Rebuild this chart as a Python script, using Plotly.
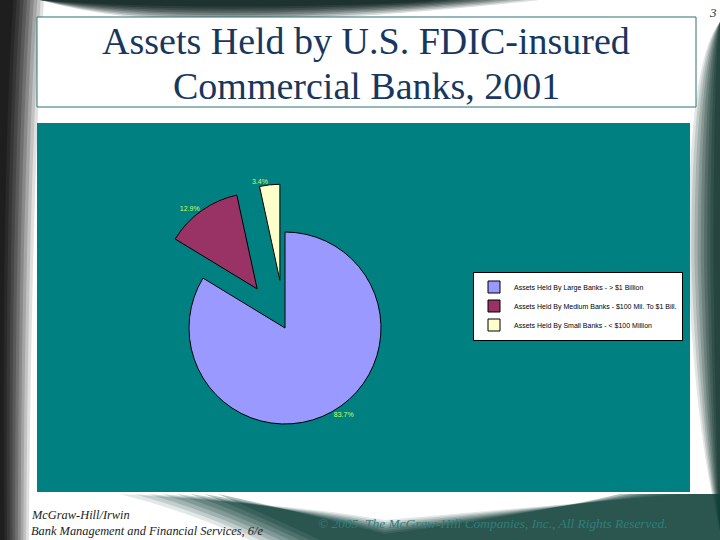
import plotly.graph_objects as go

W, H = 720, 540

# ---- data ----
categories = [
    "Assets Held By Large Banks - > $1 Billion",
    "Assets Held By Medium Banks - $100 Mil. To $1 Bill.",
    "Assets Held By Small Banks - < $100 Million",
]
shares = [83.7, 12.9, 3.4]
slice_colors = ["#9999FF", "#993366", "#FFFFCC"]
pulls = [0, 0.5, 0.5]

title_lines = ["Assets Held by U.S. FDIC-insured", "Commercial Banks, 2001"]
footer_left = ["McGraw-Hill/Irwin", "Bank Management and Financial Services, 6/e"]
footer_right = "© 2005  The McGraw-Hill Companies, Inc., All Rights Reserved."
page_number = "3"


def px(x):
    return x / W


def py(y):
    return 1 - y / H


# pie geometry (pixels)
cx, cy, r = 285, 328, 96
half = r * (1 + max(pulls))

fig = go.Figure()
fig.add_trace(go.Pie(
    labels=categories,
    values=shares,
    sort=False,
    direction="clockwise",
    rotation=0,
    pull=pulls,
    marker=dict(colors=slice_colors, line=dict(color="#000000", width=1)),
    texttemplate="%{value}%",
    textposition="outside",
    textfont=dict(family="Liberation Sans, Arial", size=7, color="#CCFF66"),
    hoverinfo="label+value",
    domain=dict(x=[px(cx - half), px(cx + half)], y=[py(cy + half), py(cy - half)]),
))

shapes = []


def add_path(path, color, opacity):
    shapes.append(dict(type="path", path=path, fillcolor=color, opacity=opacity,
                       line=dict(width=0), layer="below", xref="paper", yref="paper"))


def pth(cmds):
    out = []
    for c in cmds:
        if isinstance(c, str):
            out.append(c)
        else:
            out.append(f"{px(c[0]):.4f},{py(c[1]):.4f}")
    return " ".join(out)


# left edge (layered translucency to fake a gradient)
for i in range(10):
    w = 36 - i * 3.4
    add_path(pth(["M", (0, 0), "L", (w + 8, 0), "Q", (w - 4, 180), (w * 0.8, 540),
                  "L", (0, 540), "Z"]), "#000000", 0.12 + i * 0.015)

# top swoosh
for i in range(8):
    t = 26 - i * 2.6
    add_path(pth(["M", (40, 0), "Q", (130, t), (280, t * 0.8), "Q", (420, t * 0.5),
                  (540 - i * 15, 0), "Z"]), "#031a16", 0.15 + i * 0.025)

# right swoosh
for i in range(9):
    w = 32 - i * 3.2
    add_path(pth(["M", (720, 22), "Q", (720 - w, 60), (720 - w, 260),
                  "Q", (720 - w * 0.8, 430), (720, 530), "Z"]), "#062a24", 0.12 + i * 0.02)

# bottom swoosh
for k in range(8):
    add_path(pth(["M", (120 + k * 14, 494), "Q", (300, 505 + k), (385, 520 + k * 2),
                  "Q", (540, 506 + k), (690 - k * 10, 494), "L", (720, 494), "L", (720, 540),
                  "L", (250 + k * 10, 540), "Q", (190 + k * 10, 512), (120 + k * 14, 494), "Z"]),
             "#0d3f38", 0.12 + k * 0.03)

# chart area (teal)
shapes.append(dict(type="rect", xref="paper", yref="paper",
                   x0=px(37), x1=px(690), y0=py(492), y1=py(123),
                   fillcolor="#008080", line=dict(width=0), layer="below"))
# title box
shapes.append(dict(type="rect", xref="paper", yref="paper",
                   x0=px(37), x1=px(696), y0=py(107), y1=py(17),
                   fillcolor="#FFFFFF", line=dict(color="#2A7373", width=1), layer="below"))

annotations = []
serif = "Liberation Serif, Times New Roman, serif"
for line, yy in zip(title_lines, [41, 86]):
    annotations.append(dict(text=line, x=px(366), y=py(yy), xref="paper", yref="paper",
                            xanchor="center", yanchor="middle", showarrow=False,
                            font=dict(family=serif, size=38, color="#17375E")))
for line, yy in zip(footer_left, [515, 531]):
    annotations.append(dict(text=f"<i>{line}</i>", x=px(29), y=py(yy), xref="paper", yref="paper",
                            xanchor="left", yanchor="middle", showarrow=False,
                            font=dict(family=serif, size=12.4, color="#222222")))
annotations.append(dict(text=f"<i>{footer_right}</i>", x=px(316), y=py(523), xref="paper",
                        yref="paper", xanchor="left", yanchor="middle", showarrow=False,
                        font=dict(family=serif, size=13.4, color="#2E7F7C")))
annotations.append(dict(text=f"<i>{page_number}</i>", x=px(713), y=py(12), xref="paper",
                        yref="paper", xanchor="center", yanchor="middle", showarrow=False,
                        font=dict(family=serif, size=13, color="#333333")))

fig.update_layout(
    width=W, height=H,
    margin=dict(l=0, r=0, t=0, b=0),
    paper_bgcolor="#FFFFFF",
    plot_bgcolor="#FFFFFF",
    shapes=shapes,
    annotations=annotations,
    showlegend=True,
    legend=dict(
        x=px(683), y=py(306), xanchor="right", yanchor="middle",
        bgcolor="#FFFFFF", bordercolor="#000000", borderwidth=1,
        font=dict(family="Liberation Sans, Arial", size=7, color="#000000"),
        itemwidth=30, tracegroupgap=0,
    ),
)

fig.write_html(
    "out.html",
    config={"displayModeBar": False},
    post_script="document.body.style.margin='0';document.body.style.overflow='hidden';",
)
